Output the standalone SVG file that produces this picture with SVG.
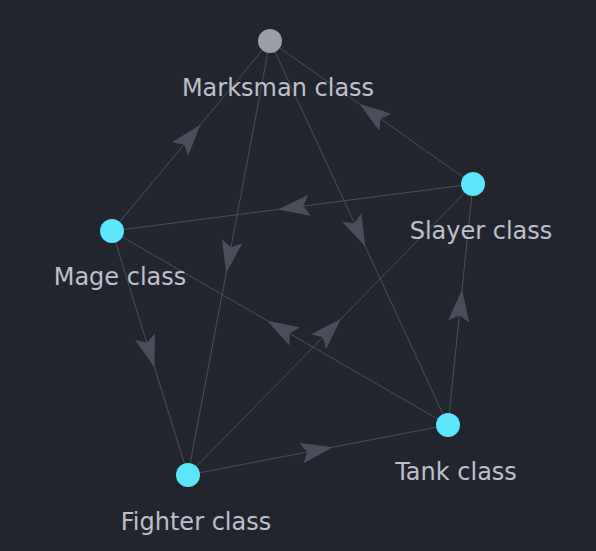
<svg xmlns="http://www.w3.org/2000/svg" width="596" height="551" viewBox="0 0 596 551">
<defs>
<marker id="arr" markerUnits="userSpaceOnUse" markerWidth="34" markerHeight="24" viewBox="0 -12 34 24" refX="17" refY="0" orient="auto">
<path d="M32,0 L0,-10.5 L6,0 L0,10.5 Z" fill="#4b4d5a"/>
</marker>
<style>
.e{fill:none;stroke:#4a4c58;stroke-width:1;marker-mid:url(#arr)}
.n{fill:#5ce6fb}
.g{fill:#9c9ea5}
.t{font-family:"DejaVu Sans",sans-serif;font-size:24px;fill:#bcc0cc;text-anchor:middle}
</style>
</defs>
<rect width="596" height="551" fill="#23252e"/>
<g id="connectors">
<path class="e" d="M112,231 L191,136 L270,41"/>
<path class="e" d="M473,184 L371.5,112.5 L270,41"/>
<path class="e" d="M473,184 L292.5,207.5 L112,231"/>
<path class="e" d="M270,41 L229,258 L188,475"/>
<path class="e" d="M270,41 L359,233 L448,425"/>
<path class="e" d="M112,231 L150,353 L188,475"/>
<path class="e" d="M448,425 L280,328 L112,231"/>
<path class="e" d="M188,475 L330.5,329.5 L473,184"/>
<path class="e" d="M448,425 L460.5,304.5 L473,184"/>
<path class="e" d="M188,475 L318,450 L448,425"/>
</g>
<g id="marksman"><circle class="g" cx="270" cy="41" r="12"/><text class="t" x="278" y="96">Marksman class</text></g>
<g id="slayer"><circle class="n" cx="473" cy="184" r="12"/><text class="t" x="481" y="239">Slayer class</text></g>
<g id="mage"><circle class="n" cx="112" cy="231" r="12"/><text class="t" x="120" y="285">Mage class</text></g>
<g id="tank"><circle class="n" cx="448" cy="425" r="12"/><text class="t" x="456" y="480">Tank class</text></g>
<g id="fighter"><circle class="n" cx="188" cy="475" r="12"/><text class="t" x="196" y="530">Fighter class</text></g>
</svg>
